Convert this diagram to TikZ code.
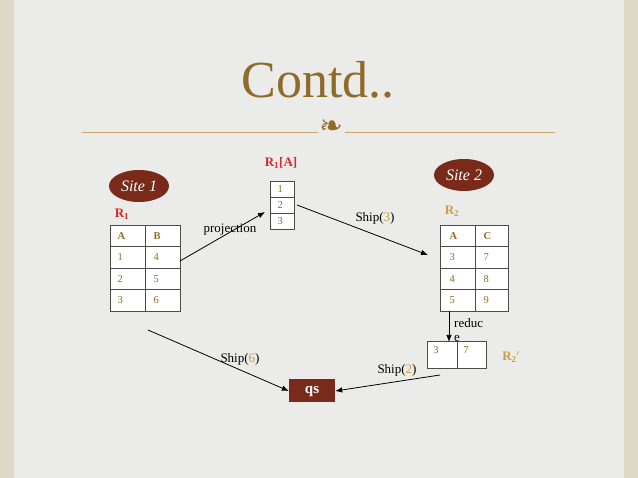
\documentclass[tikz,border=0pt]{standalone}
\usepackage{fontspec}
\setmainfont{Liberation Serif}
\newfontfamily\dejavu{DejaVu Sans}
\usetikzlibrary{shapes.geometric,arrows.meta}
\definecolor{bg}{HTML}{EBEBEA}
\definecolor{side}{HTML}{DDD9C6}
\definecolor{gold}{HTML}{8F6B2A}
\definecolor{tgold}{HTML}{C9A040}
\definecolor{lgold}{HTML}{C8A868}
\definecolor{dred}{HTML}{7A2A1A}
\definecolor{rred}{HTML}{D8282E}
\tikzset{
  cell/.style={draw=black!70, fill=white, line width=0.6pt},
  val/.style={text=gold, font=\fontsize{10.5}{12}\selectfont},
  hdr/.style={text=gold, font=\fontsize{10.5}{12}\selectfont\bfseries},
  site/.style={ellipse, fill=dred, text=white, font=\itshape\fontsize{16}{18}\selectfont, minimum width=60pt, minimum height=32pt, inner sep=0pt},
  arr/.style={-{Latex[length=7pt,width=5.5pt]}, line width=0.8pt},
  lbl/.style={font=\fontsize{13}{13}\selectfont},
  rlab/.style={text=rred, font=\bfseries\fontsize{13}{14}\selectfont},
  glab/.style={text=tgold, font=\bfseries\fontsize{13}{14}\selectfont},
}
\begin{document}
\begin{tikzpicture}[x=1pt,y=-1pt]
\useasboundingbox (0,0) rectangle (638,478);
\fill[bg] (0,0) rectangle (638,478);
\fill[side] (0,0) rectangle (14,478);
\fill[side] (624,0) rectangle (638,478);
\node[text=gold, font=\fontsize{52}{54}\selectfont] (title) at (318,80) {Contd..};
\draw[lgold, line width=1pt] (82,133) -- (318,133);
\draw[lgold, line width=1pt] (345,133) -- (555,133);
\node[text=gold, font=\dejavu\fontsize{28}{28}\selectfont] (orn) at (331,128) {❧};
% Site 1
\node[site] (s1) at (139,186) {Site 1};
\node[rlab] (r1) at (122,214) {R\textsubscript{1}};
\foreach \a/\b/\i/\s in {A/B/0/hdr,1/4/1/val,2/5/2/val,3/6/3/val}{
  \draw[cell] (110,{225+21.5*\i}) rectangle (145,{246.5+21.5*\i});
  \draw[cell] (145,{225+21.5*\i}) rectangle (180,{246.5+21.5*\i});
  \node[\s, anchor=west] at (114,{235.75+21.5*\i}) {\a};
  \node[\s, anchor=west] at (150,{235.75+21.5*\i}) {\b};
}
\coordinate (r1out) at (180,261);
% R1[A]
\node[rlab] (r1a) at (281,163) {R\textsubscript{1}[A]};
\foreach \v/\i in {1/0,2/1,3/2}{
  \draw[cell] (270,{181+16*\i}) rectangle (294,{197+16*\i});
  \node[val, anchor=west] at (274,{189+16*\i}) {\v};
}
\coordinate (r1ain) at (265,212);
\coordinate (r1aout) at (297,205);
% Site 2
\node[site] (s2) at (464,175) {Site 2};
\node[glab] (r2) at (452,211) {R\textsubscript{2}};
\foreach \a/\b/\i/\s in {A/C/0/hdr,3/7/1/val,4/8/2/val,5/9/3/val}{
  \draw[cell] (440,{225+21.5*\i}) rectangle (475,{246.5+21.5*\i});
  \draw[cell] (475,{225+21.5*\i}) rectangle (508,{246.5+21.5*\i});
  \node[\s, anchor=west] at (446,{235.75+21.5*\i}) {\a};
  \node[\s, anchor=west] at (480,{235.75+21.5*\i}) {\b};
}
\coordinate (r2in) at (428,255);
\coordinate (r2out) at (449,311);
% R2'
\draw[cell] (427,341) rectangle (457,368);
\draw[cell] (457,341) rectangle (486,368);
\node[val] at (436,350) {3};
\node[val] at (466,350) {7};
\node[glab] (r2p) at (511,357) {R\textsubscript{2}$'$};
\coordinate (r2pin) at (449,342);
\coordinate (r2pout) at (440,375);
% qs
\node[fill=dred, text=white, font=\bfseries\fontsize{15}{16}\selectfont, minimum width=46pt, minimum height=23pt, inner sep=0pt] (qs) at (312,391) {qs};
\coordinate (s1out) at (148,330);
% arrows
\draw[arr] (r1out) -- (r1ain);
\node[lbl] at (230,230) {projection};
\draw[arr] (r1aout) -- (r2in);
\node[lbl] at (375,218) {Ship(\textcolor{tgold}{3})};
\draw[arr] (r2out) -- (r2pin);
\node[lbl, align=left, anchor=north west, inner sep=0pt] at (454,318) {reduc\\[1pt]e};
\draw[arr] (s1out) -- (qs.west);
\node[lbl] at (240,359) {Ship(\textcolor{tgold}{6})};
\draw[arr] (r2pout) -- (qs.east);
\node[lbl] at (397,370) {Ship(\textcolor{tgold}{2})};
\end{tikzpicture}
\end{document}
